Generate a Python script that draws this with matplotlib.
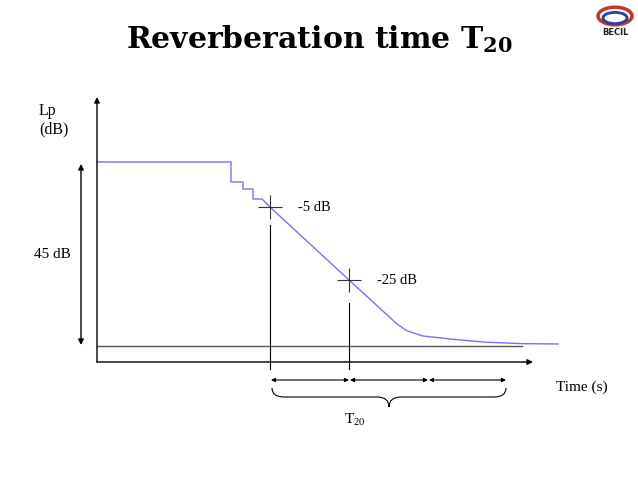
import matplotlib
matplotlib.use('Agg')
import matplotlib.pyplot as plt
from matplotlib.path import Path
from matplotlib.patches import PathPatch, Ellipse

plt.rcParams['mathtext.fontset'] = 'dejavuserif'

# decay curve, time in s and level in dB (schematic)
curve_t = [0.0, 1.34, 1.34, 1.46, 1.46, 1.56, 1.56, 1.65, 1.73, 2.52, 3.0, 3.1, 3.26, 3.53, 3.86, 4.23, 4.61]
curve_db = [50, 50, 45, 45, 43.25, 43.25, 40.75, 40.75, 38.75, 20.5, 9.5, 7.8, 6.5, 5.75, 5.0, 4.6, 4.5]

noise_floor = 4.0
noise_end = 4.25
level_top = 49.5
level_bottom = 4.25

# evaluation points
mark_t = [1.73, 2.52]
mark_db = [38.75, 20.5]
mark_labels = ['-5 dB', '-25 dB']
drop_top = [34.25, 14.75]

# time segments under the axis
seg_edges = [(1.74, 2.52), (2.53, 3.31), (3.32, 4.09)]
seg_y = -4.5

serif = 'Liberation Serif'
blue = '#7474f2'

fig = plt.figure(figsize=(6.38, 4.78), dpi=100)
ax = fig.add_axes([0, 0, 1, 1])
ax.set_xlim(-0.97, 5.41)
ax.set_ylim(-29, 90.5)
ax.axis('off')

# axes arrows
ax.annotate('', xy=(0, 66.25), xytext=(0, 0),
            arrowprops=dict(arrowstyle='-|>', color='black', lw=1, mutation_scale=8,
                            shrinkA=0, shrinkB=0))
ax.annotate('', xy=(4.36, 0), xytext=(0, 0),
            arrowprops=dict(arrowstyle='-|>', color='black', lw=1, mutation_scale=8,
                            shrinkA=0, shrinkB=0))

# noise floor
ax.plot([0, noise_end], [noise_floor, noise_floor], color='#555555', lw=1)

# curve
ax.plot(curve_t, curve_db, color=blue, lw=1)

# 45 dB range arrow
ax.annotate('', xy=(-0.16, level_top), xytext=(-0.16, level_bottom),
            arrowprops=dict(arrowstyle='<|-|>', color='black', lw=1, mutation_scale=8,
                            shrinkA=0, shrinkB=0))
ax.text(-0.45, 27, '45 dB', family=serif, fontsize=11, ha='center', va='center')
ax.text(-0.58, 60.5, 'Lp\n(dB)', family=serif, fontsize=11.5, ha='left', va='center',
        linespacing=1.25)

# crosses and drop lines
ax.plot(mark_t, mark_db, linestyle='none', marker='+', markersize=17,
        markeredgewidth=0.8, color='#333333')
for t, d, top, lab in zip(mark_t, mark_db, drop_top, mark_labels):
    ax.plot([t, t], [top, -1.75], color='black', lw=0.8)
    ax.text(t + 0.28, d, lab, family=serif, fontsize=10.5, ha='left', va='center')

# double arrows
for a, b in seg_edges:
    ax.annotate('', xy=(b, seg_y), xytext=(a, seg_y),
                arrowprops=dict(arrowstyle='<|-|>', color='black', lw=0.8,
                                mutation_scale=6, shrinkA=0, shrinkB=0))

# brace
x0, x1 = 1.75, 4.09
xm = (x0 + x1) / 2
y_top, y_mid, y_tip = -6.5, -8.75, -11.25
verts = [(x0, y_top), (x0, y_mid), (x0 + 0.12, y_mid),
         (xm - 0.12, y_mid), (xm, y_mid), (xm, y_tip),
         (xm, y_mid), (xm + 0.12, y_mid),
         (x1 - 0.12, y_mid), (x1, y_mid), (x1, y_top)]
codes = [Path.MOVETO, Path.CURVE3, Path.CURVE3,
         Path.LINETO, Path.CURVE3, Path.CURVE3,
         Path.CURVE3, Path.CURVE3,
         Path.LINETO, Path.CURVE3, Path.CURVE3]
ax.add_patch(PathPatch(Path(verts, codes), fill=False, lw=0.8, color='black'))
ax.text(2.58, -14.5, r'T$_{\mathregular{20}}$', family=serif, fontsize=11,
        ha='center', va='center')

ax.text(4.59, -6.25, 'Time (s)', family=serif, fontsize=11, ha='left', va='center')

# title
fig.text(0.5, 0.918, r'Reverberation time T$_{\mathbf{20}}$', family='DejaVu Serif',
         fontweight='bold', fontsize=21.5, ha='center', va='center')

# logo
lx, ly = 5.18, 86.5
ax.add_patch(Ellipse((lx, ly), 0.34, 4.4, facecolor='white', edgecolor='#c0392b', lw=2.5))
ax.add_patch(Ellipse((lx, ly - 0.5), 0.24, 2.8, facecolor='white', edgecolor='#2c3e9a', lw=2))
ax.text(lx, 82.5, 'BECIL', family='DejaVu Sans', fontweight='bold', fontsize=6,
        ha='center', va='center', color='#222222')

fig.savefig('out.png', dpi=100)
